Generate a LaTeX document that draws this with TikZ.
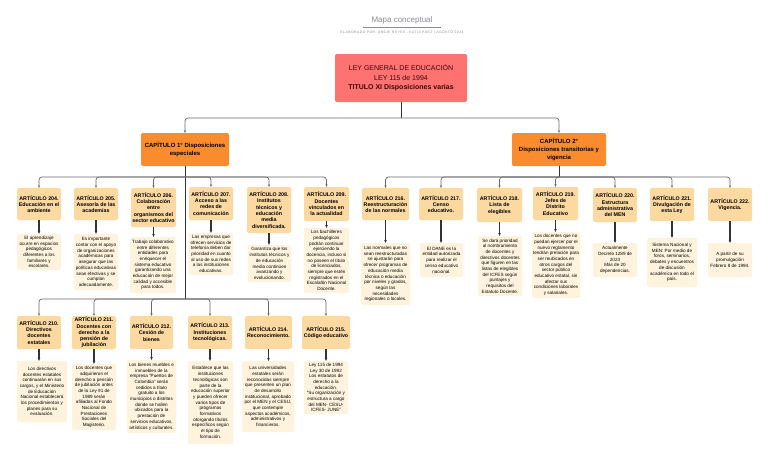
\documentclass[tikz,border=0pt]{standalone}
\usepackage{fontspec}
\setmainfont{Liberation Sans}
\usetikzlibrary{arrows.meta}
\definecolor{rootc}{HTML}{FF7272}
\definecolor{chapc}{HTML}{FB8C2E}
\definecolor{artc}{HTML}{FDD9A2}
\definecolor{descc}{HTML}{FFF3DD}
\definecolor{linec}{HTML}{6A6A6A}
\definecolor{darkl}{HTML}{333333}
\definecolor{titlec}{HTML}{8C8C99}
\definecolor{roottext}{HTML}{3A0808}
\newcommand\boxnode[7]{\node[#1,minimum width={(#5-#3)*1pt},minimum height={(#6-#4)*1pt}] (#2) at ({(#3+#5)/2},{(#4+#6)/2}) {#7};}
\begin{document}
\begin{tikzpicture}[x=1pt,y=-1pt,
  rootbox/.style={fill=rootc, rounded corners=2pt, inner sep=0pt, align=center, text=roottext, font=\fontsize{7}{9.6}\selectfont},
  chapbox/.style={fill=chapc, rounded corners=2pt, inner sep=0pt, align=center, font=\fontsize{6}{8.2}\selectfont\bfseries},
  artbox/.style={fill=artc, rounded corners=1.5pt, inner sep=0pt, align=center, font=\fontsize{5.3}{6.3}\selectfont\bfseries},
  descbox/.style={fill=descc, rounded corners=1.5pt, inner sep=0pt, align=center, font=\fontsize{4.6}{5.7}\selectfont},
  branch/.style={draw=linec, line width=0.7pt, rounded corners=3pt, -{Stealth[length=2.6pt,width=2.4pt]}},
  trunk/.style={draw=darkl, line width=1pt, rounded corners=3pt},
  down/.style={draw=darkl, line width=1.1pt, -{Stealth[length=3pt,width=2.8pt]}}]
\useasboundingbox (0,0) rectangle (768,461);
\fill[white] (0,0) rectangle (768,461);
% title
\node[text=titlec, font=\fontsize{8}{9}\selectfont, inner sep=0pt] (title) at (402,20.5) {Mapa conceptual};
\draw[titlec, line width=0.5pt] (363,27) -- (441,27);
\node[text=titlec, font=\fontsize{3.4}{4}\selectfont\addfontfeatures{LetterSpace=14}, inner sep=0pt] (sub) at (402,32.3) {ELABORADO POR: ANGIE REYES - KATIA PÁEZ | AGOSTO 2024};
% root & chapters
\boxnode{rootbox}{root}{335}{54}{467}{102}{LEY GENERAL DE EDUCACIÓN\\LEY 115 de 1994\\\textbf{TITULO XI Disposiciones varias}}
\boxnode{chapbox}{ch1}{141}{133}{229}{166}{CAPÍTULO 1° Disposiciones\\especiales}
\boxnode{chapbox}{ch2}{512}{133}{606}{166}{CAPÍTULO 2°\\Disposiciones transitorias y\\vigencia}
% chapter 1 row 1
\boxnode{artbox}{a204}{17}{188}{61}{220}{ARTÍCULO 204.\\Educación en el\\ambiente}
\boxnode{artbox}{a205}{74}{188}{118}{220}{ARTÍCULO 205.\\Asesoría de las\\academias}
\boxnode{artbox}{a206}{131}{188}{176}{227}{ARTÍCULO 206.\\Colaboración\\entre\\organismos del\\sector educativo}
\boxnode{artbox}{a207}{189}{187}{233}{220}{ARTÍCULO 207.\\Acceso a las\\redes de\\comunicación}
\boxnode{artbox}{a208}{247}{187}{291}{233}{ARTÍCULO 208.\\Institutos\\técnicos y\\educación\\media\\diversificada.}
\boxnode{artbox}{a209}{304}{187}{349}{221}{ARTÍCULO 209.\\Docentes\\vinculados en\\la actualidad}
\boxnode{descbox}{d204}{17}{234}{61}{270}{El aprendizaje\\ocurre en espacios\\pedagógicos\\diferentes a los\\familiares y\\escolares.}
\boxnode{descbox}{d205}{74}{234}{118}{290}{Es importante\\contar con el apoyo\\de organizaciones\\académicas para\\asegurar que las\\políticas educativas\\sean efectivas y se\\cumplan\\adecuadamente.}
\boxnode{descbox}{d206}{130}{237}{176}{293}{Trabajo colaborativo\\entre diferentes\\entidades para\\enriquecer el\\sistema educativo\\garantizando una\\educación de mejor\\calidad y accesible\\para todos.}
\boxnode{descbox}{d207}{189}{233}{233}{275}{Las empresas que\\ofrecen servicios de\\telefonía deben dar\\prioridad en cuanto\\al uso de sus redes\\a las instituciones\\educativas.}
\boxnode{descbox}{d208}{248}{245}{291}{282}{Garantiza que los\\institutos técnicos y\\de educación\\media continúen\\avanzando y\\evolucionando.}
\boxnode{descbox}{d209}{304}{228}{349}{293}{Los bachilleres\\pedagógicos\\podrán continuar\\ejerciendo la\\docencia, incluso si\\no poseen el título\\de licenciados,\\siempre que estén\\registrados en el\\Escalafón Nacional\\Docente.}
% chapter 1 row 2
\boxnode{artbox}{a210}{17}{316}{61}{349}{ARTÍCULO 210.\\Directivos\\docentes\\estatales}
\boxnode{artbox}{a211}{72}{316}{116}{349}{ARTÍCULO 211.\\Docentes con\\derecho a la\\pensión de\\jubilación}
\boxnode{artbox}{a212}{130}{316}{173}{349}{ARTÍCULO 212.\\Cesión de\\bienes}
\boxnode{artbox}{a213}{188}{316}{232}{349}{ARTÍCULO 213.\\Instituciones\\tecnológicas.}
\boxnode{artbox}{a214}{245}{316}{292}{349}{ARTÍCULO 214.\\Reconocimiento.}
\boxnode{artbox}{a215}{302}{316}{350}{349}{ARTÍCULO 215.\\Código educativo}
\boxnode{descbox}{d210}{17}{361}{67}{422}{Los directivos\\docentes estatales\\continuarán en sus\\cargos, y el Ministerio\\de Educación\\Nacional establecerá\\los procedimientos y\\planes para su\\evaluación.}
\boxnode{descbox}{d211}{72}{364}{116}{430}{Los docentes que\\adquirieron el\\derecho a pensión\\de jubilación antes\\de la Ley 91 de\\1989 serán\\afiliados al Fondo\\Nacional de\\Prestaciones\\Sociales del\\Magisterio.}
\boxnode{descbox}{d212}{127}{360}{176}{433}{Los bienes muebles e\\inmuebles de la\\empresa ``Puertos de\\Colombia'' serán\\cedidos a título\\gratuito a los\\municipios o distritos\\donde se hallen\\ubicados para la\\prestación de\\servicios educativos,\\artísticos y culturales.}
\boxnode{descbox}{d213}{188}{361}{233}{444}{Establece que las\\instituciones\\tecnológicas son\\parte de la\\educación superior\\y pueden ofrecer\\varios tipos de\\programas\\formativos\\otorgando títulos\\específicos según\\el tipo de\\formación.}
\boxnode{descbox}{d214}{242}{361}{294}{432}{Las universidades\\estatales serán\\reconocidas siempre\\que presenten un plan\\de desarrollo\\institucional, aprobado\\por el MEN y el CESU,\\que contemple\\aspectos académicos,\\administrativos y\\financieros.}
\boxnode{descbox}{d215}{304}{361}{348}{414}{Ley 115 de 1994\\Ley 30 de 1992\\Los estatutos de\\derecho a la\\educación.\\``Su organización y\\estructura a cargo\\del MEN- CESU-\\ICFES- JUNE''}
% chapter 2
\boxnode{artbox}{a216}{362}{188}{409}{220}{ARTÍCULO 216.\\Reestructuración\\de las normales}
\boxnode{artbox}{a217}{419}{188}{463}{220}{ARTÍCULO 217.\\Censo\\educativo.}
\boxnode{artbox}{a218}{477}{188}{522}{222}{ARTÍCULO 218.\\Lista de\\elegibles}
\boxnode{artbox}{a219}{533}{187}{578}{220}{ARTÍCULO 219.\\Jefes de\\Distrito\\Educativo}
\boxnode{artbox}{a220}{593}{188}{637}{222}{ARTÍCULO 220.\\Estructura\\administrativa\\del MEN}
\boxnode{artbox}{a221}{650}{188}{694}{221}{ARTÍCULO 221.\\Divulgación de\\esta Ley}
\boxnode{artbox}{a222}{708}{188}{752}{221}{ARTÍCULO 222.\\Vigencia.}
\boxnode{descbox}{d216}{361}{243}{410}{305}{Las normales que no\\sean reestructuradas\\se ajustarán para\\ofrecer programas de\\educación media\\técnica o educación\\por niveles y grados,\\según las\\necesidades\\regionales o locales.}
\boxnode{descbox}{d217}{420}{243}{463}{277}{El DANE es la\\entidad autorizada\\para realizar el\\censo educativo\\nacional.}
\boxnode{descbox}{d218}{478}{236}{522}{296}{Se dará prioridad\\al nombramiento\\de docentes y\\directivos docentes\\que figuren en las\\listas de elegibles\\del ICFES según\\puntajes y\\requisitos del\\Estatuto Docente.}
\boxnode{descbox}{d219}{532}{232}{580}{298}{Los docentes que no\\puedan ejercer por el\\nuevo reglamento\\tendrán prelación para\\ser reubicados en\\otros cargos del\\sector público\\educativo estatal, sin\\afectar sus\\condiciones laborales\\y salariales.}
\boxnode{descbox}{d220}{593}{243}{637}{277}{Actualmente\\Decreto 1289 de\\2023\\Más de 20\\dependencias.}
\boxnode{descbox}{d221}{647}{238}{697}{287}{Sistema Nacional y\\MEN: Por medio de\\foros, seminarios,\\debates y encuentros\\de discusión\\académica en todo el\\país.}
\boxnode{descbox}{d222}{708}{243}{752}{277}{A partir de su\\promulgación\\Febrero 8 de 1994.}
% junctions
\coordinate (j0) at (401,118);
\coordinate (j1) at (185,177);
\coordinate (j2) at (185,299);
\coordinate (j3) at (559,177);
% root to chapters
\draw[trunk] (root.south) -- (j0);
\draw[branch] (j0) -| (ch1.north);
\draw[branch] (j0) -| (ch2.north);
% chapter 1 trunk
\draw[trunk] (ch1.south) -- (j2);
\foreach \n in {a204,a205,a206,a207,a208,a209} {\draw[branch] (j1) -| (\n.north);}
\foreach \n in {a210,a211,a212,a213,a214,a215} {\draw[branch] (j2) -| (\n.north);}
% chapter 2
\draw[trunk] (ch2.south) -- (j3);
\foreach \n in {a216,a217,a218,a219,a220,a221,a222} {\draw[branch] (j3) -| (\n.north);}
% article to description
\foreach \n in {204,205,206,207,208,209,210,211,212,213,214,215,216,217,218,219,220,221,222} {\draw[down] (a\n.south) -- (a\n.south |- d\n.north);}
\end{tikzpicture}
\end{document}
